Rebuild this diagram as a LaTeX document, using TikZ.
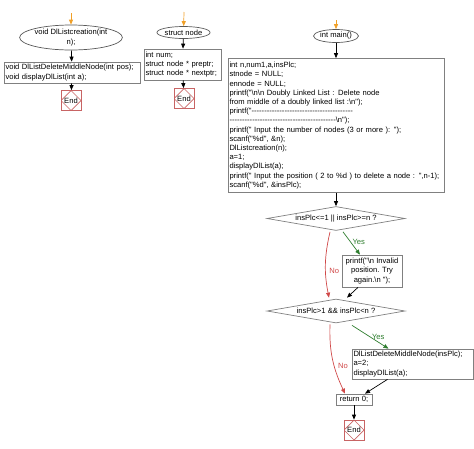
\documentclass[tikz,border=0pt]{standalone}
\usepackage{fontspec}
\newfontfamily\flowfont{Liberation Sans}
\usetikzlibrary{shapes.geometric,arrows.meta}
\definecolor{boxgray}{HTML}{808080}
\definecolor{endred}{HTML}{C86464}
\definecolor{startorange}{HTML}{F0A028}
\definecolor{nored}{HTML}{D04848}
\definecolor{yesgreen}{HTML}{2E7D2E}
\begin{document}
\begin{tikzpicture}
  [x=1pt,y=-1pt,line width=.7pt,
   every node/.style={font=\flowfont\fontsize{7.6}{9.2}\selectfont,inner sep=1.5pt},
   oval/.style={ellipse,draw=black!65,inner sep=0pt,align=center},
   box/.style={rectangle,draw=boxgray,align=left},
   cbox/.style={rectangle,draw=boxgray,align=center},
   cond/.style={diamond,draw=boxgray,inner sep=0pt,minimum width=138pt,minimum height=24pt,shape aspect=5.75},
   endbox/.style={rectangle,draw=endred,minimum size=20pt,inner sep=0pt,
     path picture={\draw[endred] (path picture bounding box.north) -- (path picture bounding box.east)
       -- (path picture bounding box.south) -- (path picture bounding box.west) -- cycle;}},
   arrow/.style={-{Triangle[length=5pt,width=4pt]},black},
   startarrow/.style={-{Triangle[length=5pt,width=4pt]},startorange},
   noarrow/.style={-{Triangle[length=5pt,width=4pt]},nored},
   yesarrow/.style={-{Triangle[length=5pt,width=4pt]},yesgreen}]
  \useasboundingbox (0,0) rectangle (474,448);

  % void DlListcreation
  \coordinate (s1) at (71,13);
  \node (o1)[oval,minimum width=95pt,minimum height=25pt] at (71,37.5) {void DlListcreation(int\\n);};
  \node (b1)[box,text width=133pt,minimum height=21pt] at (72,72.5)
    {void DlListDeleteMiddleNode(int pos);\\void displayDlList(int a);};
  \node (end1)[endbox] at (71,100.5) {End};

  % struct node
  \coordinate (s2) at (184,12);
  \node (o2)[oval,minimum width=45pt,minimum height=12pt] at (183.5,32.5) {struct node};
  \node (b2)[box,text width=74pt,minimum height=31pt] at (182.5,64.5)
    {int num;\\struct node * preptr;\\struct node * nextptr;};
  \node (end2)[endbox] at (184,98.5) {End};

  % int main
  \coordinate (s3) at (336,20);
  \node (o3)[oval,minimum width=45pt,minimum height=13pt] at (336,36) {int main()};
  \node (b3)[box,text width=213pt,minimum height=134pt] at (336,125.5)
    {int n,num1,a,insPlc;\\
     stnode = NULL;\\
     ennode = NULL;\\
     printf("\textbackslash n\textbackslash n Doubly Linked List : Delete node\\
     from middle of a doubly linked list :\textbackslash n");\\
     printf("----------------------------------------\\
     ------------------------------------------\textbackslash n");\\
     printf(" Input the number of nodes (3 or more ): ");\\
     scanf("\%d", \&n);\\
     DlListcreation(n);\\
     a=1;\\
     displayDlList(a);\\
     printf(" Input the position ( 2 to \%d ) to delete a node : ",n-1);\\
     scanf("\%d", \&insPlc);};
  \node (d1)[cond] at (336,218.5) {insPlc<=1 || insPlc>=n ?};
  \node (b4)[cbox,minimum width=60pt,minimum height=32pt] at (372,271)
    {printf("\textbackslash n Invalid\\position. Try\\again.\textbackslash n ");};
  \node (d2)[cond] at (336,311) {insPlc>1 \&\& insPlc<n ?};
  \node (b5)[box,text width=118pt,minimum height=30pt] at (412.5,364)
    {DlListDeleteMiddleNode(insPlc);\\a=2;\\displayDlList(a);};
  \node (b6)[box,minimum width=36pt,minimum height=11pt,inner sep=1pt] at (354,399.5) {return 0;};
  \node (end3)[endbox] at (354,430) {End};

  \foreach \from/\to in {s1/o1,s2/o2,s3/o3}
    \draw[startarrow] (\from) -- (\to);
  \foreach \from/\to in {o1/b1,b1/end1,o2/b2,b2/end2,o3/b3,b3/d1,b6/end3}
    \draw[arrow] (\from) -- (\to);

  \draw[yesarrow] ([xshift=7pt,yshift=-1pt]d1.south) -- node[right,pos=.45,text=yesgreen] {Yes} ([xshift=-12pt]b4.north);
  \draw[noarrow] ([xshift=-6pt,yshift=-1pt]d1.south) to[bend right=12] node[right,pos=.6,xshift=2pt,text=nored] {No} ([xshift=-7pt,yshift=1pt]d2.north);
  \draw[arrow] ([xshift=-14pt]b4.south) -- ([xshift=11pt,yshift=1pt]d2.north);
  \draw[yesarrow] ([xshift=16pt,yshift=-2pt]d2.south) -- node[right,pos=.5,text=yesgreen] {Yes} ([xshift=-24pt]b5.north);
  \draw[noarrow] ([xshift=-6pt,yshift=-1pt]d2.south) to[out=-92,in=115] node[right,pos=.6,xshift=2pt,text=nored] {No} ([xshift=-9pt]b6.north);
  \draw[arrow] ([xshift=-25pt]b5.south) -- ([xshift=11pt]b6.north);
\end{tikzpicture}
\end{document}
